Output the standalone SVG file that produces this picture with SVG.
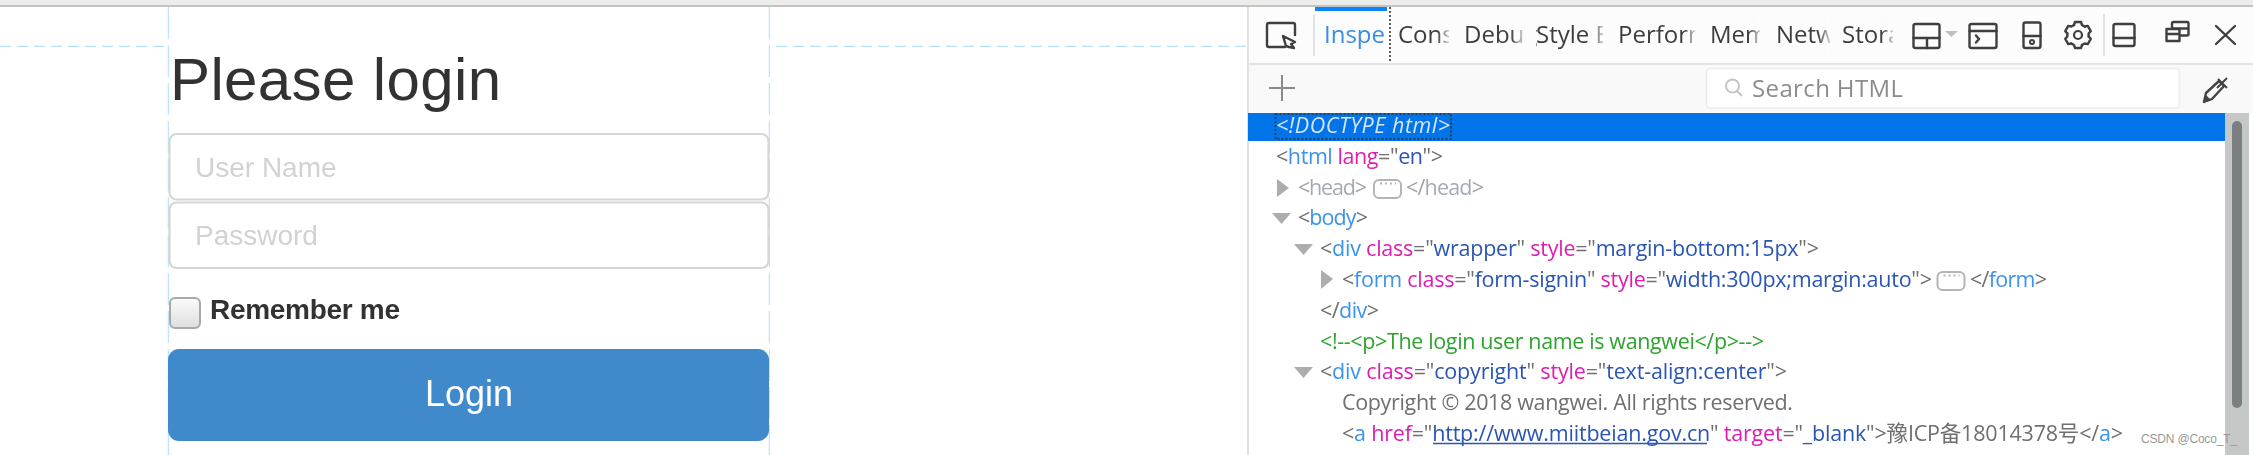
<svg xmlns="http://www.w3.org/2000/svg" xmlns:xlink="http://www.w3.org/1999/xlink" width="2253" height="455" viewBox="0 0 2253 455">
<style>
text{font-family:"Liberation Sans",Arial,sans-serif}
.ns{font-family:"Open Sans","Noto Sans",sans-serif}
.tab{font-size:24px;fill:#3d3d3d}
.dom{font-size:21.5px;fill:#6f6f6f}
.t{fill:#3b93ee}.a{fill:#e01fb0}.v{fill:#2a55b5}
.ph{font-size:28px;fill:#d2d2d2}
.inp{fill:#fff;stroke:#d6d6d6;stroke-width:2.2}
.guide{stroke:#b4e1f5;stroke-width:1.1;fill:none}
.ic{fill:none;stroke:#3f3f3f;stroke-width:2.4;stroke-linejoin:round;stroke-linecap:round}
.sep{stroke:#e2e2e2;stroke-width:2}
.tri{fill:#adadad}
.badge{fill:#fff;stroke:#b5b5b5;stroke-width:2}
.dots{fill:none;stroke:#333;stroke-width:1.6;stroke-dasharray:2 2}
.fd{fill:url(#fade)}
</style>
<defs>
<linearGradient id="fade"><stop offset="0" stop-color="#fcfcfc" stop-opacity="0"/><stop offset="1" stop-color="#fcfcfc" stop-opacity="0.75"/></linearGradient>
<linearGradient id="cb" x2="0" y2="1"><stop offset="0" stop-color="#fbfbfb"/><stop offset="1" stop-color="#dedede"/></linearGradient>
<filter id="soft" x="-5%" y="-20%" width="110%" height="140%"><feGaussianBlur stdDeviation="0.55"/></filter>
<clipPath id="tabclip">
<rect x="1398" y="15" width="51" height="40"/><rect x="1464" y="15" width="59" height="40"/><rect x="1536" y="15" width="67" height="40"/><rect x="1618" y="15" width="77" height="40"/><rect x="1710" y="15" width="50" height="40"/><rect x="1776" y="15" width="54" height="40"/><rect x="1842" y="15" width="51" height="40"/>
</clipPath>
<path id="tooth" class="ic" d="M-4,-10 L-3,-13 L3,-13 L4,-10 L6.66,-8.46"/>
<g id="bd"><rect class="badge" x="0" y="0" width="27" height="18" rx="5"/><path d="M6,3.5h2M11,3.5h2M16,3.5h2M21,3.5h1" stroke="#b5b5b5" stroke-width="2"/></g>
</defs>
<rect width="2253" height="455" fill="#fff"/>
<g id="browser-top"><rect width="2253" height="5" fill="#ececea"/><rect y="5" width="2253" height="2" fill="#c3c3c3"/></g>

<g id="guides">
<path class="guide" stroke-dasharray="32 6" d="M168.3,7V455M769.3,7V455"/>
<path class="guide" stroke-dasharray="11 6" d="M0,46.4H164M776,46.4H1247"/>
</g>

<g id="login-form" filter="url(#soft)">
<text id="heading" x="170" y="100" font-size="60" fill="#333" textLength="331">Please login</text>
<g id="username"><rect class="inp" x="169.500" y="134" width="599" height="65.500" rx="7"/><text class="ph" x="195" y="177">User Name</text></g>
<g id="password"><rect class="inp" x="169.500" y="202.500" width="599" height="65.500" rx="7"/><text class="ph" x="195" y="245">Password</text></g>
<g id="remember"><rect x="170" y="298" width="30" height="30" rx="5" fill="url(#cb)" stroke="#a9a9a9" stroke-width="2"/><text x="210" y="319" font-size="28" font-weight="bold" fill="#333" textLength="190">Remember me</text></g>
<g id="login-button"><rect x="168" y="349" width="601" height="92" rx="11" fill="#4189ca"/><text x="469" y="406" font-size="36" fill="#fff" text-anchor="middle">Login</text></g>
</g>

<g id="devtools">
<rect x="1247" y="7" width="1006" height="448" fill="#fff"/>
<rect x="1248" y="7" width="1005" height="56" fill="#fcfcfc"/>
<rect x="1248" y="63" width="1005" height="2" fill="#e4e4e4"/>
<rect x="1248" y="65" width="1005" height="48" fill="#f9f9fa"/>
<rect x="1247" y="7" width="2" height="448" fill="#dfe3e6"/>

<g id="tabs">
<rect x="1315" y="7" width="72" height="4" fill="#0a84ff"/>
<line class="sep" x1="1314" y1="14" x2="1314" y2="56"/>
<line class="sep" x1="2104" y1="14" x2="2104" y2="56"/>
<line x1="1390" y1="7" x2="1390" y2="61" stroke="#333" stroke-width="1.6" stroke-dasharray="2 2"/>
<text class="ns" font-size="24" x="1324" y="43" fill="#3b8de8" filter="url(#soft)">Inspe</text>
<g filter="url(#soft)">
<g clip-path="url(#tabclip)">
<text class="ns tab" x="1398" y="43">Cons</text>
<text class="ns tab" x="1464" y="43">Debug</text>
<text class="ns tab" x="1536" y="43">Style E</text>
<text class="ns tab" x="1618" y="43">Perform</text>
<text class="ns tab" x="1710" y="43">Mem</text>
<text class="ns tab" x="1776" y="43">Netw</text>
<text class="ns tab" x="1842" y="43">Stora</text>
</g>
<rect class="fd" x="1437" y="15" width="12" height="40"/><rect class="fd" x="1511" y="15" width="12" height="40"/><rect class="fd" x="1591" y="15" width="12" height="40"/><rect class="fd" x="1683" y="15" width="12" height="40"/><rect class="fd" x="1748" y="15" width="12" height="40"/><rect class="fd" x="1818" y="15" width="12" height="40"/><rect class="fd" x="1881" y="15" width="12" height="40"/>
</g>
</g>

<g id="toolbar-icons">
<path class="ic" d="M1285,47H1269a2,2 0 0 1 -2,-2V25a2,2 0 0 1 2,-2H1293a2,2 0 0 1 2,2V35"/>
<path class="ic" d="M1283,36L1295,42L1291,44L1294,48L1289,47L1286,46Z"/>
<g id="icon-layout"><rect class="ic" x="1913.500" y="24" width="26" height="24" rx="2"/><path class="ic" d="M1913.500,38H1939.500M1927,38V48"/></g>
<path d="M1945,31H1958L1951.500,37Z" fill="#bcc0c6"/>
<g id="icon-console"><rect class="ic" x="1969.500" y="24" width="27" height="24" rx="2"/><path class="ic" d="M1969.500,31H1996.500"/><path class="ic" d="M1976,35.500L1979,39L1976,42.500" stroke-width="3"/></g>
<g id="icon-device"><rect class="ic" x="2023.500" y="22.500" width="17" height="25.500" rx="2"/><path class="ic" d="M2023.500,36H2040.500"/><circle cx="2032" cy="42" r="2" fill="none" stroke="#3f3f3f" stroke-width="2"/></g>
<g id="icon-gear" transform="translate(2078 35)"><use xlink:href="#tooth"/><use xlink:href="#tooth" transform="rotate(60)"/><use xlink:href="#tooth" transform="rotate(120)"/><use xlink:href="#tooth" transform="rotate(180)"/><use xlink:href="#tooth" transform="rotate(240)"/><use xlink:href="#tooth" transform="rotate(300)"/><circle r="4" fill="none" stroke="#3f3f3f" stroke-width="2.200"/></g>
<g id="icon-dock"><rect class="ic" x="2113.500" y="24" width="21" height="22" rx="2"/><path class="ic" d="M2113.500,38H2134.500"/></g>
<g id="icon-window"><path class="ic" d="M2172,27V23.500a1.500,1.500 0 0 1 1.500,-1.500H2187a1.500,1.500 0 0 1 1.500,1.500V34a1.500,1.500 0 0 1 -1.500,1.500H2181M2172,28.500H2188.500"/><path class="ic" d="M2166.500,29H2179.500V41H2166.500ZM2166.500,34H2179.500"/></g>
<path class="ic" d="M2216,26L2235,44M2235,26L2216,44" stroke-width="2"/>
</g>

<g id="search-row">
<path d="M1269,88H1295M1282,75V101" stroke="#8a8a8a" stroke-width="2" fill="none"/>
<rect x="1706.500" y="68.500" width="473" height="39.500" rx="3" fill="#fff" stroke="#ececec" stroke-width="1.500"/>
<circle cx="1732.500" cy="86" r="6.500" fill="none" stroke="#c4c4c4" stroke-width="2"/><path d="M1737,91L1742,96" stroke="#c4c4c4" stroke-width="2"/>
<text class="ns" x="1752" y="97" font-size="24" fill="#8c8c8c" filter="url(#soft)" textLength="151">Search HTML</text>
<g id="icon-eyedropper"><path d="M2204,102L2206,93L2219,81L2224,86L2212,99Z" fill="none" stroke="#444" stroke-width="2.400" stroke-linejoin="round"/><path d="M2204,102L2206,95L2211,100Z" fill="#444"/><path d="M2218,79L2227,88M2227,78L2217,88" stroke="#444" stroke-width="2"/></g>
</g>

<g id="selected-row">
<rect x="1248" y="113" width="977" height="28" fill="#0074e8"/>
<text class="ns" x="1276" y="133" font-size="21.500" font-style="italic" fill="#d6e6fa" filter="url(#soft)" textLength="174">&lt;!DOCTYPE html&gt;</text>
<rect class="dots" x="1275.500" y="114" width="175.500" height="25"/>
</g>

<g id="scrollbar">
<rect x="2225" y="113" width="24" height="342" fill="#c6c8c8"/>
<rect x="2232" y="121" width="10" height="287" rx="5" fill="#7b7f7f"/>
</g>

<g id="dom-tree">
<path class="tri" d="M1277,179L1289,188L1277,197Z"/>
<path class="tri" d="M1272,213H1291L1281.500,224Z"/>
<path class="tri" d="M1294,244H1313L1303.500,255Z"/>
<path class="tri" d="M1321,270L1333,279L1321,289Z"/>
<path class="tri" d="M1294,367H1313L1303.500,378Z"/>
<use xlink:href="#bd" x="1374" y="180"/>
<use xlink:href="#bd" x="1937.500" y="272"/>
<line x1="1433" y1="443.500" x2="1707" y2="443.500" stroke="#2a55b5" stroke-width="1.600"/>
<g filter="url(#soft)">
<text class="ns dom" x="1276" y="163.800" textLength="167">&lt;<tspan class="t">html</tspan> <tspan class="a">lang</tspan>="<tspan class="v">en</tspan>"&gt;</text>
<text class="ns dom" x="1298" y="194.600" textLength="69" opacity="0.65">&lt;<tspan style="fill:#6f7f90">head</tspan>&gt;</text>
<text class="ns dom" x="1406" y="194.600" textLength="78" opacity="0.65">&lt;/<tspan style="fill:#6f7f90">head</tspan>&gt;</text>
<text class="ns dom" x="1298" y="225.400" textLength="70">&lt;<tspan class="t">body</tspan>&gt;</text>
<text class="ns dom" x="1320" y="256.200" textLength="499">&lt;<tspan class="t">div</tspan> <tspan class="a">class</tspan>="<tspan class="v">wrapper</tspan>" <tspan class="a">style</tspan>="<tspan class="v">margin-bottom:15px</tspan>"&gt;</text>
<text class="ns dom" x="1342" y="287" textLength="590">&lt;<tspan class="t">form</tspan> <tspan class="a">class</tspan>="<tspan class="v">form-signin</tspan>" <tspan class="a">style</tspan>="<tspan class="v">width:300px;margin:auto</tspan>"&gt;</text>
<text class="ns dom" x="1970" y="287" textLength="77">&lt;/<tspan class="t">form</tspan>&gt;</text>
<text class="ns dom" x="1320" y="317.800" textLength="59">&lt;/<tspan class="t">div</tspan>&gt;</text>
<text class="ns dom" x="1320" y="348.600" textLength="444" style="fill:#2ea32e">&lt;!--&lt;p&gt;The login user name is wangwei&lt;/p&gt;--&gt;</text>
<text class="ns dom" x="1320" y="379.400" textLength="467">&lt;<tspan class="t">div</tspan> <tspan class="a">class</tspan>="<tspan class="v">copyright</tspan>" <tspan class="a">style</tspan>="<tspan class="v">text-align:center</tspan>"&gt;</text>
<text class="ns dom" x="1342" y="410.200" textLength="451">Copyright © 2018 wangwei. All rights reserved.</text>
<text class="dom" x="1342" y="441" style="font-family:'Open Sans','Noto Sans','Noto Sans CJK SC',sans-serif" textLength="781">&lt;<tspan class="t">a</tspan> <tspan class="a">href</tspan>="<tspan class="v">http://www.miitbeian.gov.cn</tspan>" <tspan class="a">target</tspan>="<tspan class="v">_blank</tspan>"&gt;豫ICP备18014378号&lt;/<tspan class="t">a</tspan>&gt;</text>
</g>
</g>
</g>
<text id="watermark" x="2141" y="443" font-size="12" fill="#999" textLength="96">CSDN @Coco_T_</text>
</svg>
